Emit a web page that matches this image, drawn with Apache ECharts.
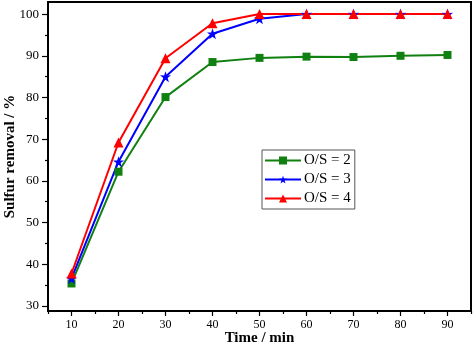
<!DOCTYPE html>
<html>
<head>
<meta charset="utf-8">
<script src="https://cdn.jsdelivr.net/npm/echarts@6/dist/echarts.min.js"></script>
<style>html,body{margin:0;padding:0;background:#fff}#c{width:474px;height:351px}</style>
</head>
<body>
<div id="c"></div>
<script>
var times = [10, 20, 30, 40, 50, 60, 70, 80, 90];
var os2 = [35.4, 62.2, 80.1, 88.5, 89.5, 89.8, 89.7, 90.0, 90.2];
var os3 = [36.6, 64.6, 85.0, 95.3, 98.9, 100, 100, 100, 100];
var os4 = [37.8, 69.2, 89.4, 97.8, 100, 100, 100, 100, 100];
var seriesNames = ['O/S = 2', 'O/S = 3', 'O/S = 4'];
var xMajorTicks = [10, 20, 30, 40, 50, 60, 70, 80, 90];
var xMinorTicks = [5, 15, 25, 35, 45, 55, 65, 75, 85, 95];
var yMajorTicks = [30, 40, 50, 60, 70, 80, 90, 100];
var yMinorTicks = [35, 45, 55, 65, 75, 85, 95];

var FONT = '"Liberation Serif", "Times New Roman", serif';
var star = 'path://M50,0 L61.8,35.4 L97.6,34.5 L68.7,56.3 L79.4,90.5 L50,70 L20.6,90.5 L31.3,56.3 L2.4,34.5 L38.2,35.4 Z';

function pairs(ys) { return times.map(function (t, i) { return [t, ys[i]]; }); }

var chart = echarts.init(document.getElementById('c'), null, { renderer: 'canvas' });
chart.setOption({
  animation: false,
  backgroundColor: '#fff',
  grid: { left: 48, right: 3, top: 2, bottom: 40, show: true, borderColor: '#000', borderWidth: 2,
          backgroundColor: 'transparent', containLabel: false, outerBoundsMode: 'none' },
  legend: {
    data: seriesNames,
    orient: 'vertical',
    left: 262, top: 150,
    padding: [3, 4, 3, 2],
    itemWidth: 36, itemHeight: 10, itemGap: 4,
    borderColor: '#555', borderWidth: 1,
    textStyle: { fontFamily: FONT, fontSize: 15, color: '#000', padding: [0, 0, 0, -2] }
  },
  xAxis: [{
    type: 'value', min: 5, max: 95, position: 'bottom',
    name: 'Time / min', nameLocation: 'middle', nameGap: 20, nameMoveOverlap: false,
    nameTextStyle: { fontFamily: FONT, fontSize: 15, fontWeight: 'bold', color: '#000' },
    axisLine: { show: true, lineStyle: { color: '#000', width: 1.5 } },
    axisTick: { show: true, customValues: xMajorTicks, length: 5, lineStyle: { color: '#000', width: 1.2 } },
    axisLabel: { customValues: xMajorTicks, fontFamily: FONT, fontSize: 12, color: '#000', margin: 8 },
    splitLine: { show: false }
  }, {
    type: 'value', min: 5, max: 95, position: 'bottom',
    axisLine: { show: false },
    axisTick: { show: true, customValues: xMinorTicks, length: 3, lineStyle: { color: '#000', width: 1.2 } },
    axisLabel: { show: false },
    splitLine: { show: false }
  }],
  yAxis: [{
    type: 'value', min: 28.8, max: 102.9, position: 'left',
    name: 'Sulfur removal / %', nameLocation: 'middle', nameGap: 30, nameMoveOverlap: false,
    nameTextStyle: { fontFamily: FONT, fontSize: 15, fontWeight: 'bold', color: '#000' },
    axisLine: { show: true, lineStyle: { color: '#000', width: 1.5 } },
    axisTick: { show: true, customValues: yMajorTicks, length: 6, lineStyle: { color: '#000', width: 1.2 } },
    axisLabel: { customValues: yMajorTicks, fontFamily: FONT, fontSize: 13, color: '#000', margin: 9 },
    splitLine: { show: false }
  }, {
    type: 'value', min: 28.8, max: 102.9, position: 'left',
    axisLine: { show: false },
    axisTick: { show: true, customValues: yMinorTicks, length: 3, lineStyle: { color: '#000', width: 1.2 } },
    axisLabel: { show: false },
    splitLine: { show: false }
  }],
  series: [{
    name: seriesNames[0], type: 'line', data: pairs(os2),
    symbol: 'rect', symbolSize: 8,
    lineStyle: { color: '#108010', width: 2 },
    itemStyle: { color: '#108010' }
  }, {
    name: seriesNames[1], type: 'line', data: pairs(os3),
    symbol: star, symbolSize: 11,
    lineStyle: { color: '#0000ff', width: 2 },
    itemStyle: { color: '#0000ff' }
  }, {
    name: seriesNames[2], type: 'line', data: pairs(os4),
    symbol: 'triangle', symbolSize: 10,
    lineStyle: { color: '#ff0000', width: 2 },
    itemStyle: { color: '#ff0000' }
  }]
});
</script>
</body>
</html>
